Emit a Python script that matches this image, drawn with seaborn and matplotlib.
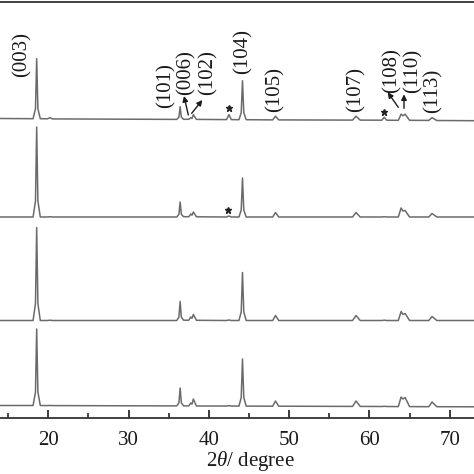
import matplotlib
matplotlib.use("Agg")
import matplotlib.pyplot as plt
import seaborn as sns
import pandas as pd

# ---------------- data ----------------
# shared 2-theta vertices (degree) of the traced patterns
two_theta = [14.0,
             18.1, 18.40, 18.55, 18.70, 19.0,
             19.9, 20.2, 20.5,
             36.0, 36.27, 36.42, 36.57, 36.85,
             37.5, 37.75, 37.9, 38.07, 38.45,
             42.2, 42.5, 42.8,
             43.75, 44.03, 44.19, 44.35, 44.65,
             47.95, 48.3, 48.7,
             57.9, 58.33, 58.85,
             61.55, 61.85, 62.15,
             63.6, 63.95, 64.18, 64.45, 65.0,
             67.4, 67.8, 68.4,
             73.1]

# intensities (a.u.) above each trace's own baseline
intensity_a = [1.2, 1.0, 11, 61, 11, 1.0, 0.9, 2.0, 0.8, 0.3, 2.6, 13, 2.6, 0.4,
               0.4, 2.0, 1.2, 5, 0.3, 0.1, 5, 0.1, 0.0, 7, 39, 7, 0.0,
               -0.2, 3.5, -0.2, -0.4, 3.5, -0.4, -0.5, 2.5, -0.5,
               -0.6, 5.5, 4, 5.5, -0.6, -0.7, 2.0, -0.8, -1.0]
intensity_b = [0, 0, 16, 90, 16, 0, 0, 0.3, 0, 0, 2.7, 15, 2.7, 0.3,
               0.3, 3, 1.8, 5, 0.2, 0, 1.0, 0, 0, 7, 39, 7, 0,
               0, 4.5, 0, 0, 4.5, 0, 0, 0.3, 0,
               0, 9, 6, 6.5, 0, 0, 3.5, 0, 0]
intensity_c = [0, 0, 17, 93, 17, 0, 0, 0.3, 0, 0, 3.4, 19, 3.4, 0.3,
               0.3, 3.5, 2.2, 6, 0.2, 0, 0.5, 0, 0, 8.6, 48, 8.6, 0,
               0, 5, 0, 0, 5, 0, 0, 0.3, 0,
               0, 9, 6, 7, 0, 0, 4, 0, 0]
intensity_d = [0.5, 0.5, 14, 77, 14, 0.5, 0.4, 0.6, 0.4, 0.1, 3.2, 18, 3.2, 0.1,
               0.1, 3, 1.8, 7, 0, 0, 0.3, 0, -0.1, 8.5, 47, 8.5, -0.1,
               -0.2, 5, -0.2, -0.4, 5, -0.4, -0.5, -0.3, -0.5,
               -0.6, 9, 7, 8.5, -0.6, -0.7, 4, -0.7, -0.8]

samples = ["a", "b", "c", "d"]

# Miller-index labels
hkl_labels = ["(003)", "(101)", "(006)", "(102)", "(104)", "(105)",
              "(107)", "(108)", "(110)", "(113)"]
hkl_theta = [16.72, 34.69, 37.2, 39.9, 44.27, 48.26, 58.33, 62.8, 65.4, 67.9]

star_theta = [42.47, 61.85, 42.43]

x_ticks = [20, 30, 40, 50, 60, 70]

# ---------------- layout (positions) ----------------
offsets = [298.0, 200.7, 97.2, 11.7]
hkl_y = [340.7, 309.7, 322.7, 322.7, 343.7, 305.7, 305.7, 324.7, 324.7, 304.7]
star_y = [309.7, 306.2, 207.7]
arrows = [((36.9, 321.7), (37.44, 302.7)),   # (006)
          ((39.19, 317.7), (37.86, 304.4)),  # (102)
          ((62.28, 325.4), (63.6, 310.4)),   # (108)
          ((64.31, 323.4), (64.31, 309.4))]  # (110)

# ---------------- build table ----------------
frames = []
for name, vals, off in zip(samples, [intensity_a, intensity_b, intensity_c, intensity_d], offsets):
    frames.append(pd.DataFrame({"two_theta": two_theta,
                                "intensity": [v + off for v in vals],
                                "sample": name}))
df = pd.concat(frames, ignore_index=True)

sns.set_style("white")
plt.rcParams["font.family"] = ["Liberation Serif", "DejaVu Serif"]
plt.rcParams["mathtext.fontset"] = "custom"
plt.rcParams["mathtext.rm"] = "Liberation Serif"
plt.rcParams["mathtext.it"] = "Liberation Serif:italic"

fig = plt.figure(figsize=(4.74, 4.74), dpi=100)
ax = fig.add_axes([0.0, (474 - 417.7) / 474, 1.0, (417.7 - 2.0) / 474])

sns.lineplot(data=df, x="two_theta", y="intensity", hue="sample", units="sample",
             estimator=None, sort=False, palette=["#6b6b6b"] * 4, linewidth=1.1,
             legend=False, ax=ax)

ax.set_xlim(13.98, 73.03)
ax.set_ylim(0, 415.7)

for lab, th, yy in zip(hkl_labels, hkl_theta, hkl_y):
    ax.text(th, yy, lab, rotation=90, ha="center", va="bottom",
            fontsize=15, color="#1a1a1a")

ax.plot(star_theta, star_y, linestyle="none", marker="*", ms=5,
        color="#222222", mec="#222222")

for head, tail in arrows:
    ax.annotate("", xy=head, xytext=tail,
                arrowprops=dict(arrowstyle="-|>", lw=1.0, color="#1a1a1a",
                                mutation_scale=8, shrinkA=0, shrinkB=0))

ax.set_xticks(x_ticks)
ax.set_xticks([15, 25, 35, 45, 55, 65], minor=True)
ax.set_xticklabels([str(t) for t in x_ticks])
ax.set_yticks([])
ax.tick_params(axis="x", which="major", direction="in", length=6, width=1.2,
               pad=9.5, labelsize=15, colors="#1a1a1a", bottom=True, top=False)
ax.tick_params(axis="x", which="minor", direction="in", length=3.5, width=1.2,
               bottom=True, top=False)
for side in ["left", "right"]:
    ax.spines[side].set_visible(False)
for side in ["top", "bottom"]:
    ax.spines[side].set_linewidth(1.3)
    ax.spines[side].set_color("#333333")

ax.set_xlabel(r"2$\it{\theta}$/ degree", fontsize=15, color="#1a1a1a")
ax.xaxis.label.set_verticalalignment("top")
ax.xaxis.set_label_coords(250 / 474, -(449 - 417.7) / 415.7)
ax.set_ylabel("")

fig.savefig("out.png", dpi=100)
